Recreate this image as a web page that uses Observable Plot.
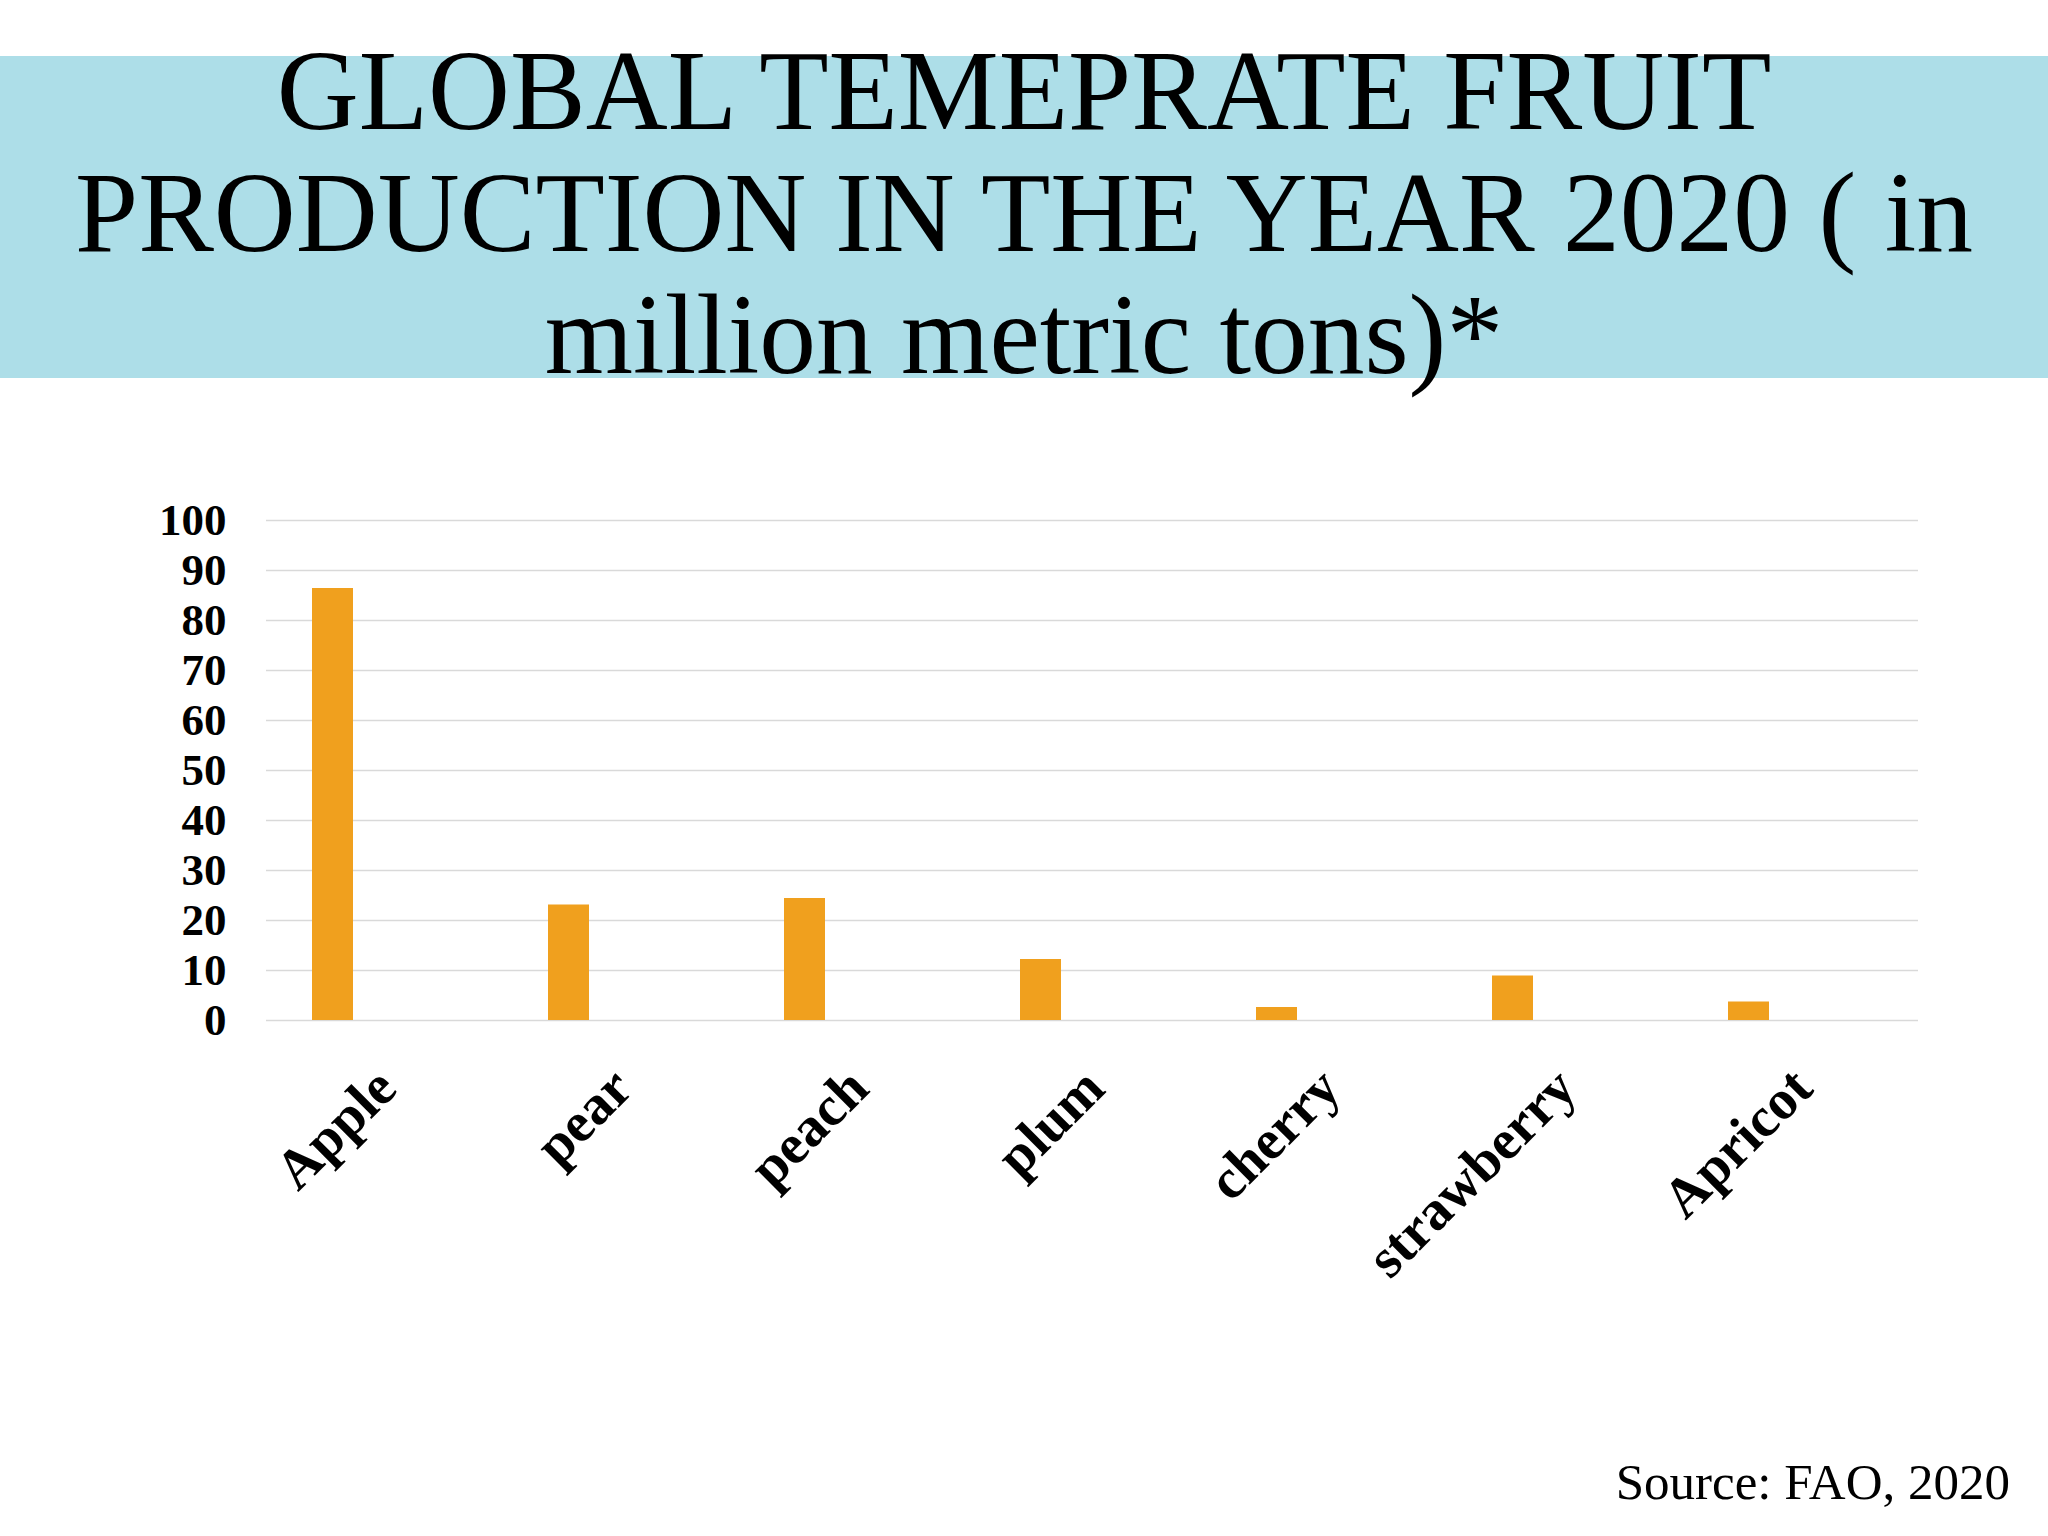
<!DOCTYPE html>
<html>
<head>
<meta charset="utf-8">
<script src="https://cdn.jsdelivr.net/npm/d3@7"></script>
<script src="https://cdn.jsdelivr.net/npm/@observablehq/plot@0.6"></script>
<style>
  html, body { margin: 0; padding: 0; background: #ffffff; }
  body { width: 2048px; height: 1536px; position: relative; overflow: hidden; font-family: "Liberation Serif", "Times New Roman", serif; }
  #band { position: absolute; left: 0; top: 56px; width: 2048px; height: 322px; background: #ADDEE8; }
  #title { position: absolute; left: 0; top: 30px; width: 2048px; text-align: center; font-size: 113.5px; line-height: 122px; color: #000; font-weight: normal; }
  #chart { position: absolute; left: 0; top: 400px; }
  #caption { position: absolute; right: 38px; top: 1457px; font-size: 51px; line-height: 1; color: #000; }
</style>
</head>
<body>
<div id="band"></div>
<div id="title">GLOBAL TEMEPRATE FRUIT<br>PRODUCTION IN THE YEAR 2020 ( in<br>million metric tons)*</div>
<div id="chart"></div>
<div id="caption">Source: FAO, 2020</div>
<script>
const fruits = ["Apple", "pear", "peach", "plum", "cherry", "strawberry", "Apricot"];
const production = [86.4, 23.1, 24.4, 12.2, 2.6, 8.9, 3.7];
const yTicks = [0, 10, 20, 30, 40, 50, 60, 70, 80, 90, 100];

const data = fruits.map((f, i) => ({fruit: f, value: production[i]}));

const chart = Plot.plot({
  width: 2048,
  height: 1000,
  marginTop: 120,
  marginBottom: 380,
  marginLeft: 266,
  marginRight: 130,
  style: {fontFamily: "Liberation Serif, Times New Roman, serif", color: "#000", background: "transparent"},
  x: {domain: fruits, padding: 0, axis: null, label: null},
  y: {domain: [0, 100], axis: null, label: null},
  marks: [
    Plot.gridY(yTicks, {stroke: "#d9d9d9", strokeOpacity: 1, strokeWidth: 1.5}),
    Plot.barY(data, {x: "fruit", y: "value", fill: "#F0A01E", insetLeft: 46, insetRight: 149}),
    Plot.axisY(yTicks, {tickSize: 0, tickPadding: 40, fontSize: 45, fontWeight: "bold", fill: "#000", label: null}),
    Plot.axisX({tickSize: 0, tickRotate: -45, tickPadding: 58, dx: 2, fontSize: 56, fontWeight: "bold", fill: "#000", label: null})
  ]
});
document.getElementById("chart").appendChild(chart);
</script>
</body>
</html>
